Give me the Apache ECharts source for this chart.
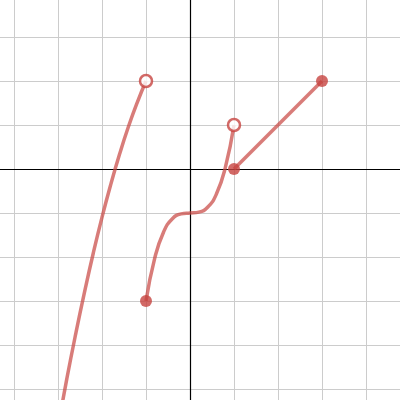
<!DOCTYPE html>
<html>
<head>
<meta charset="utf-8">
<script src="https://cdn.jsdelivr.net/npm/echarts@6/dist/echarts.min.js"></script>
<style>html,body{margin:0;padding:0;background:#fff}#main{width:400px;height:400px}</style>
</head>
<body>
<div id="main"></div>
<script>
// values
var leftCurve = [[-1, 2], [-1.2, 1.51], [-1.4, 0.96], [-1.6, 0.34], [-1.8, -0.35], [-2, -1.1],
  [-2.2, -1.92], [-2.4, -2.81], [-2.6, -3.76], [-2.8, -4.77], [-3, -5.85]];
var midCurve = [[-1, -3], [-0.8, -2.02], [-0.6, -1.43], [-0.4, -1.13], [-0.2, -1.02], [0, -1],
  [0.2, -0.98], [0.4, -0.87], [0.6, -0.57], [0.8, 0.02], [1, 1]];
var rightLine = [[1, 0], [3, 2]];
var openDots = [[-1, 2], [1, 1]];
var filledDots = [[-1, -3], [1, 0], [3, 2]];

var red = '#c74440';
var chart = echarts.init(document.getElementById('main'));
var axisCommon = {
  type: 'value', interval: 1,
  axisLabel: { show: false }, axisTick: { show: false },
  axisLine: { onZero: true, lineStyle: { color: '#000', width: 1.2 } },
  splitLine: { lineStyle: { color: '#ccc', width: 1 } }
};
function lineSeries(d) {
  return { type: 'line', data: d, smooth: true, showSymbol: false, silent: true,
    lineStyle: { color: red, width: 3.5, opacity: 0.7 } };
}
chart.setOption({
  animation: false,
  grid: { left: -30, top: -7, width: 440, height: 440, containLabel: false, outerBoundsMode: 'none' },
  xAxis: Object.assign({ min: -5, max: 5 }, axisCommon),
  yAxis: Object.assign({ min: -6, max: 4 }, axisCommon),
  series: [
    lineSeries(leftCurve), lineSeries(midCurve), lineSeries(rightLine),
    { type: 'scatter', data: openDots, symbolSize: 12, z: 5,
      itemStyle: { color: '#fff', borderColor: red, borderWidth: 2.5 } },
    { type: 'scatter', data: filledDots, symbolSize: 12, z: 5,
      itemStyle: { color: red } }
  ]
});
</script>
</body>
</html>
